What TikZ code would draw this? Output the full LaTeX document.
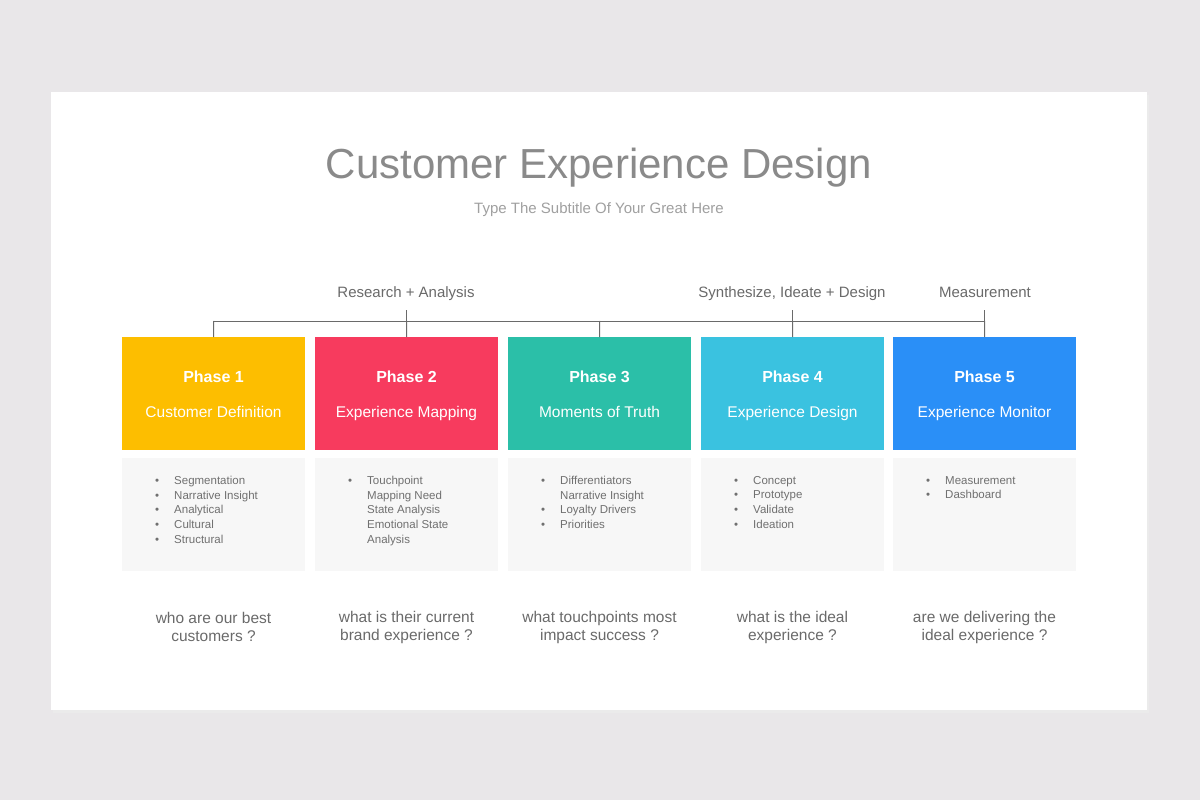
\documentclass[tikz,border=0pt]{standalone}
\usepackage{fontspec}
\setmainfont{Liberation Sans}
\definecolor{bg}{HTML}{E9E7E9}
\definecolor{ttl}{HTML}{8A8A8A}
\definecolor{sub}{HTML}{A0A0A0}
\definecolor{txt}{HTML}{6A6A6A}
\definecolor{lst}{HTML}{707070}
\definecolor{gbox}{HTML}{F7F7F7}
\definecolor{cA}{HTML}{FDBE00}
\definecolor{cB}{HTML}{F73B5E}
\definecolor{cC}{HTML}{2BBFA8}
\definecolor{cD}{HTML}{3AC2E0}
\definecolor{cE}{HTML}{2A8FF7}
\tikzset{
 head/.style={minimum width=183pt,minimum height=113pt,inner sep=0pt,anchor=north west},
 htext/.style={text=white,anchor=base},
 listbox/.style={fill=gbox,minimum width=183pt,minimum height=113pt,inner sep=0pt,anchor=north west},
 lst/.style={font=\fontsize{11.5}{14.7}\selectfont,text=lst,align=left,anchor=north west,inner sep=0pt},
 q/.style={font=\fontsize{15.5}{18}\selectfont,text=txt,align=center},
 lab/.style={font=\fontsize{15}{18}\selectfont,text=txt,anchor=base},
 conn/.style={draw=txt,line width=1pt}
}
\newcommand{\bl}{\makebox[19pt][l]{\textbullet}}
\newcommand{\nb}{\makebox[19pt][l]{}}
\begin{document}
\begin{tikzpicture}[x=1pt,y=-1pt]
\fill[bg] (0,0) rectangle (1200,800);
\fill[black!8] (53,95) rectangle (1149,713);
\fill[white] (51,92) rectangle (1147,710);
\node[font=\fontsize{42}{46}\selectfont,text=ttl,anchor=base] (title) at (599,178) {Customer Experience Design};
\node[font=\fontsize{15}{18}\selectfont,text=sub,anchor=base] (subt) at (599,213) {Type The Subtitle Of Your Great Here};
\foreach \n/\x/\c/\t in {1/122/cA/Customer Definition,2/315/cB/Experience Mapping,3/508/cC/Moments of Truth,4/701/cD/Experience Design,5/893/cE/Experience Monitor}{
 \node[head,fill=\c] (h\n) at (\x,337) {};
 \node[htext,font=\fontsize{16}{18}\selectfont\bfseries] (p\n) at (\x+91.5,382) {Phase \n};
 \node[htext,font=\fontsize{15.5}{18}\selectfont] (d\n) at (\x+91.5,417) {\t};
 \node[listbox] (l\n) at (\x,458) {};
 \coordinate (t\n) at (\x+91.5,321);
 \draw[conn] (t\n) -- (h\n.north);
}
\draw[conn] (t1) -- (t5);
\node[lab] (r1) at (406,297) {Research + Analysis};
\node[lab] (r2) at (792,297) {Synthesize, Ideate + Design};
\node[lab] (r3) at (985,297) {Measurement};
\draw[conn] (t2) -- ++(0,-11) coordinate (u2);
\draw[conn] (t4) -- ++(0,-11) coordinate (u4);
\draw[conn] (t5) -- ++(0,-11) coordinate (u5);
\node[lst] (a1) at (155,476) {\bl Segmentation\\\bl Narrative Insight\\\bl Analytical\\\bl Cultural\\\bl Structural};
\node[lst] (a2) at (348,476) {\bl Touchpoint\\\nb Mapping Need\\\nb State Analysis\\\nb Emotional State\\\nb Analysis};
\node[lst] (a3) at (541,476) {\bl Differentiators\\\nb Narrative Insight\\\bl Loyalty Drivers\\\bl Priorities};
\node[lst] (a4) at (734,476) {\bl Concept\\\bl Prototype\\\bl Validate\\\bl Ideation};
\node[lst] (a5) at (926,476) {\bl Measurement\\\bl Dashboard};
\node[q] (q1) at (213.5,627) {who are our best\\customers ?};
\node[q] (q2) at (406.5,627) {what is their current\\brand experience ?};
\node[q] (q3) at (599.5,627) {what touchpoints most\\impact success ?};
\node[q] (q4) at (792.5,627) {what is the ideal\\experience ?};
\node[q] (q5) at (984.5,627) {are we delivering the\\ideal experience ?};
\end{tikzpicture}
\end{document}
